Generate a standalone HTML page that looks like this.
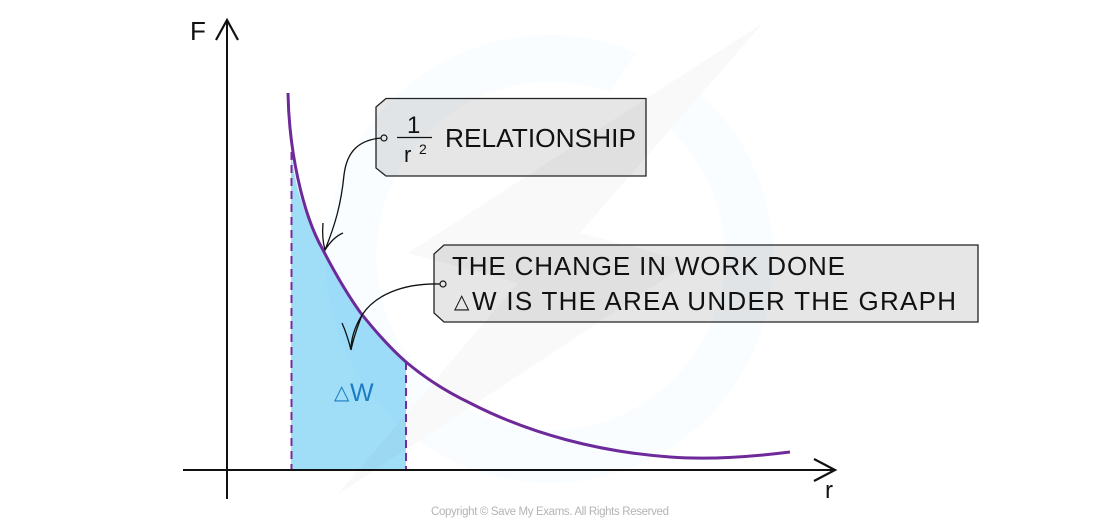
<!DOCTYPE html>
<html><head><meta charset="utf-8"><style>html,body{margin:0;padding:0;background:#fff}svg{display:block}text{font-family:"Liberation Sans","DejaVu Sans",sans-serif}</style></head>
<body>
<svg width="1100" height="518" viewBox="0 0 1100 518" xmlns="http://www.w3.org/2000/svg">
<path fill="#a0def8" d="M291 150C295 190 307 222 323 250C337 277 350 298 360 312C375 331 390 348 406 362V470H291Z"/>
<!-- dashes -->
<path d="M291.500 152V470M406 362V470" stroke="#7a2a9e" stroke-width="2" stroke-dasharray="8 5" fill="none"/>
<!-- axes -->
<path d="M227 20V499M183 470H835" stroke="#111" stroke-width="2" fill="none"/>
<path d="M216 40L227 20L238 40M814 459L835 470L814 481" stroke="#111" stroke-width="2.200" fill="none"/>
<!-- curve -->
<path d="M288 93C289 150 302 213 323 250C337 277 350 298 360 312C375 331 390 348 406 362C425 378 447 392 470 403C530 434 600 452 670 457C710 460 750 457 790 452" stroke="#6f2a9a" stroke-width="3" fill="none"/>
<!-- tags -->
<path d="M386 98.500H646V176H386L376 168V107Z" fill="#e6e6e6" stroke="#222" stroke-width="1.300"/>
<path d="M444 245H978V322H444L434 313V254Z" fill="#e6e6e6" stroke="#222" stroke-width="1.300"/>
<!-- connectors -->
<circle cx="384" cy="138" r="3" fill="none" stroke="#111" stroke-width="1.200"/>
<circle cx="443" cy="284" r="3" fill="none" stroke="#111" stroke-width="1.200"/>
<path d="M381 138C360 140 347 150 344 175C341 205 335 225 325 250M323 223C322 235 323 243 325 250C330 242 336 236 343 233" stroke="#111" stroke-width="1.300" fill="none"/>
<path d="M440 284C403 283 375 295 362 315C354 328 351 340 351 350M342 323C346 332 349 342 351 350C353 340 357 328 362 315" stroke="#111" stroke-width="1.300" fill="none"/>
<!-- text -->
<text x="190" y="40" font-size="26" fill="#111">F</text>
<text x="825" y="498" font-size="24" fill="#111">r</text>
<text x="407" y="133" font-size="24" fill="#111">1</text>
<path d="M397 137.500H432" stroke="#111" stroke-width="1.300"/>
<text x="404" y="162" font-size="22" fill="#111">r</text>
<text x="419" y="154" font-size="14" fill="#111">2</text>
<text x="445" y="147" font-size="26" fill="#111" textLength="191" lengthAdjust="spacingAndGlyphs">RELATIONSHIP</text>
<text x="452" y="275" font-size="26" fill="#111" textLength="393" lengthAdjust="spacing">THE CHANGE IN WORK DONE</text>
<text x="454" y="308" font-size="20" fill="#111" style="font-family:'DejaVu Sans',sans-serif">△</text>
<text x="472" y="310" font-size="26" fill="#111" textLength="484" lengthAdjust="spacing">W IS THE AREA UNDER THE GRAPH</text>
<text x="334" y="399" font-size="20" fill="#1a7cc4" style="font-family:'DejaVu Sans',sans-serif">△</text>
<text x="350" y="401" font-size="25" fill="#1a7cc4">W</text>
<text x="550" y="515" font-size="11.500" fill="#b4b4b4" text-anchor="middle" textLength="238">Copyright © Save My Exams. All Rights Reserved</text>
<!-- watermark -->
<g style="mix-blend-mode:multiply">
<path fill-rule="evenodd" fill="#fafdff" d="M550 35A224 224 0 1 1 549 35ZM550 82A174 174 0 1 0 551 82Z"/>
<path fill="#fff" d="M720 30L637 52L610 92L580 233L763 20Z"/>
<path fill="#f9f9f9" d="M763 23L408 253L518 283L337 495L690 262L580 233Z"/>
</g>
</svg>
</body></html>
